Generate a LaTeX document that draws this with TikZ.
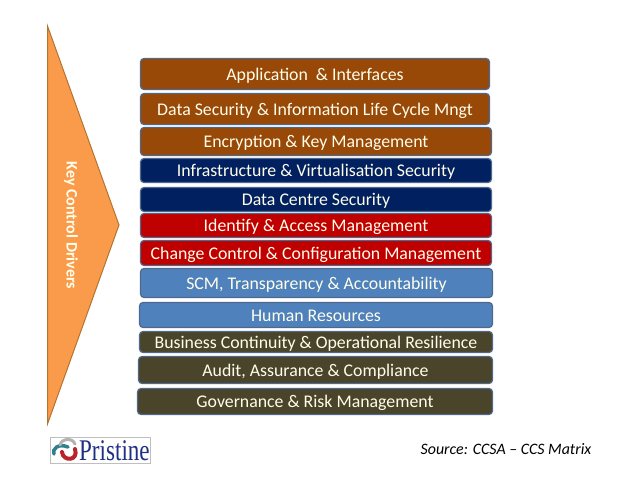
\documentclass[tikz,border=0pt]{standalone}
\usepackage{fontspec}
\setmainfont{Carlito}
\newfontfamily\logofont{Liberation Serif}
\definecolor{brownbar}{HTML}{984807}
\definecolor{navybar}{HTML}{002060}
\definecolor{redbar}{HTML}{C00000}
\definecolor{bluebar}{HTML}{4F81BD}
\definecolor{olivebar}{HTML}{4A452A}
\definecolor{barline}{HTML}{50688C}
\definecolor{wedgefill}{HTML}{FA9B4B}
\definecolor{wedgeline}{HTML}{B4742F}
\definecolor{logoblue}{HTML}{1F2F86}
\definecolor{logored}{HTML}{B9232B}
\definecolor{logoteal}{HTML}{2F7F8F}

\begin{document}
\begin{tikzpicture}[x=1pt,y=-1pt]
  \tikzstyle{bar}=[rectangle,rounded corners=3.5pt,draw=barline,line width=1.2pt,text=white!92!yellow,inner sep=0pt,text height=12pt,text depth=0pt,font=\fontsize{17.8}{20}\selectfont]
  \tikzstyle{brown}=[bar,fill=brownbar]
  \tikzstyle{navy}=[bar,fill=navybar]
  \tikzstyle{crimson}=[bar,fill=redbar]
  \tikzstyle{steel}=[bar,fill=bluebar]
  \tikzstyle{olive}=[bar,fill=olivebar]
  \useasboundingbox (0,0) rectangle (638,479);

    \node [brown] (app) at (315,74) [minimum width=349pt,minimum height=31pt] {Application \ \& Interfaces}; %top
    \node [brown] (data) at (315,109) [minimum width=349pt,minimum height=31pt] {Data Security \& Information Life Cycle Mngt};
    \node [brown] (enc) at (316,141.5) [minimum width=351pt,minimum height=28pt] {Encryption \& Key Management};
    \node [navy] (infra) at (316,170.5) [minimum width=351pt,minimum height=24pt] {Infrastructure \& Virtualisation Security};
    \node [navy] (centre) at (316,199.5) [minimum width=351pt,minimum height=24pt] {Data Centre Security};
    \node [crimson] (access) at (316,225.5) [minimum width=351pt,minimum height=24pt] {Identify \& Access Management};
    \node [crimson] (change) at (316,253) [minimum width=351pt,minimum height=25pt] {Change Control \& Configuration Management};
    \node [steel] (scm) at (316.5,283) [minimum width=352pt,minimum height=29pt] {SCM, Transparency \& Accountability};
    \node [steel] (human) at (316,315) [minimum width=353pt,minimum height=25pt] {Human Resources};
    \node [olive] (cont) at (316,342) [minimum width=353pt,minimum height=21pt] {Business Continuity \& Operational Resilience};
    \node [olive] (audit) at (315.5,370) [minimum width=354pt,minimum height=27pt] {Audit, Assurance \& Compliance};
    \node [olive] (gov) at (315,401.5) [minimum width=355pt,minimum height=26pt] {Governance \& Risk Management};

    \draw [fill=wedgefill,draw=wedgeline,line width=1pt] (47.5,26) -- (119,225) -- (47.5,424) -- cycle;
    \node [rotate=-90,text=white!92!yellow,font=\fontsize{16}{18}\selectfont\bfseries] (drivers) at (71,225.5) {Key Control Drivers};

    \node [font=\fontsize{15.9}{18}\selectfont\itshape] (source) at (506,449) {Source: CCSA -- CCS Matrix};

    \draw [black!25,line width=.5pt] (50.5,437.5) rectangle (150.5,463.5);
    \draw [logoteal,line width=3.5pt,line cap=round] (68,447) .. controls (58,443) and (52,449) .. (54,454);
    \draw [black!30,line width=3pt,line cap=round] (60,445) .. controls (62,438) and (72,437) .. (75,444);
    \draw [logored,line width=4pt,line cap=round] (62,452) .. controls (63,462) and (79,461) .. (75,449);
    \node [text=logoblue,font=\fontsize{30}{30}\selectfont\logofont,inner sep=0pt,anchor=west,xscale=.77] (pristine) at (79,451) {Pristine};
\end{tikzpicture}
\end{document}
